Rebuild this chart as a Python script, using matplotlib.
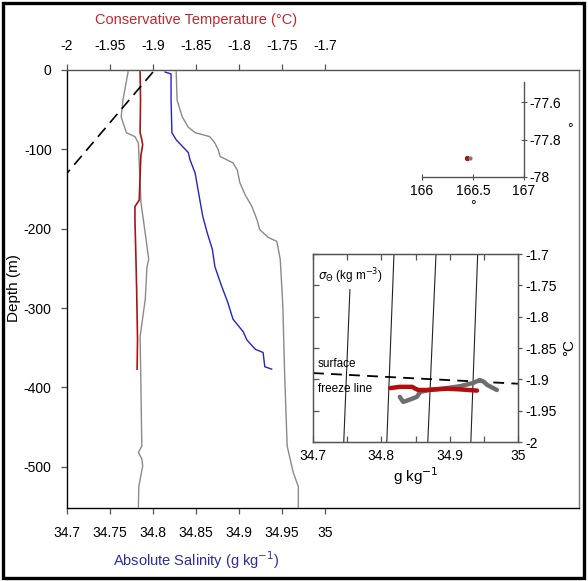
import matplotlib
matplotlib.use("Agg")
import matplotlib.pyplot as plt
from matplotlib.patches import Rectangle

plt.rcParams['font.family'] = ['Liberation Sans', 'DejaVu Sans']
plt.rcParams['axes.unicode_minus'] = False

# ---------------- data ----------------
blue_depth = [-2.5, -5, -38, -79, -88, -104, -113, -130, -167, -185, -205, -226, -248,
              -273, -293, -314, -330, -340, -352, -356, -374, -377]
blue_sal = [34.814, 34.821, 34.821, 34.822, 34.827, 34.841, 34.843, 34.849, 34.855, 34.858,
            34.863, 34.869, 34.872, 34.880, 34.887, 34.893, 34.905, 34.909, 34.919, 34.928,
            34.930, 34.938]

red_depth = [-2.5, -38, -79, -88, -94, -101, -107, -119, -164, -172, -189, -230, -277, -340, -377]
red_temp = [-1.915, -1.9145, -1.915, -1.913, -1.912, -1.913, -1.914, -1.9145, -1.916, -1.921,
            -1.921, -1.920, -1.919, -1.918, -1.9185]

gray_t_depth = [-2.5, -38, -59, -79, -84, -92, -167, -214, -239, -248, -289, -336, -403, -474,
                -478, -482, -486, -490, -499, -525, -551]
gray_temp = [-1.929, -1.935, -1.937, -1.931, -1.921, -1.917, -1.914, -1.908, -1.905, -1.907,
             -1.909, -1.915, -1.914, -1.913, -1.915, -1.917, -1.915, -1.913, -1.912, -1.9165, -1.917]

gray_s_depth = [-2.5, -38, -59, -72, -79, -84, -92, -101, -109, -117, -126, -142, -157, -172,
                -189, -201, -211, -216, -239, -298, -381, -474, -507, -525, -551]
gray_sal = [34.827, 34.828, 34.834, 34.841, 34.849, 34.866, 34.872, 34.876, 34.878, 34.893,
            34.898, 34.901, 34.907, 34.915, 34.921, 34.924, 34.934, 34.944, 34.948, 34.951,
            34.953, 34.956, 34.963, 34.969, 34.969]

freeze_depth = [-2.5, -140]
freeze_temp = [-1.900, -2.0078]

sal_ticks = [34.7, 34.75, 34.8, 34.85, 34.9, 34.95, 35]
sal_labels = ['34.7', '34.75', '34.8', '34.85', '34.9', '34.95', '35']
temp_ticks = [-2, -1.95, -1.9, -1.85, -1.8, -1.75, -1.7]
temp_labels = ['-2', '-1.95', '-1.9', '-1.85', '-1.8', '-1.75', '-1.7']
depth_ticks = [0, -100, -200, -300, -400, -500]
depth_labels = ['0', '-100', '-200', '-300', '-400', '-500']

# T-S inset
ts_red_S = [34.813, 34.820, 34.827, 34.835, 34.845, 34.850, 34.854, 34.860, 34.867, 34.880,
            34.896, 34.915, 34.940]
ts_red_T = [-1.914, -1.913, -1.912, -1.912, -1.912, -1.915, -1.917, -1.917, -1.917, -1.916,
            -1.915, -1.916, -1.918]
ts_gray_S = [34.827, 34.832, 34.840, 34.852, 34.857, 34.870, 34.896, 34.915, 34.934, 34.944,
             34.950, 34.955, 34.962, 34.969]
ts_gray_T = [-1.928, -1.936, -1.933, -1.928, -1.920, -1.917, -1.914, -1.911, -1.906, -1.901,
             -1.904, -1.909, -1.913, -1.917]
iso_S_top = [34.754, 34.8185, 34.880, 34.941]
iso_T_top = [-1.757, -1.7, -1.7, -1.7]
iso_S_bot = [34.745, 34.808, 34.868, 34.931]
ts_freeze_S = [34.7, 35.0]
ts_freeze_T = [-1.890, -1.907]
ts_xticks = [34.7, 34.8, 34.9, 35]
ts_xlabels = ['34.7', '34.8', '34.9', '35']
ts_yticks = [-2, -1.95, -1.9, -1.85, -1.8, -1.75, -1.7]
ts_ylabels = ['-2', '-1.95', '-1.9', '-1.85', '-1.8', '-1.75', '-1.7']

# map inset
map_lon = [166.44, 166.475]
map_lat = [-77.90, -77.90]
map_xticks = [166, 166.5, 167]
map_xlabels = ['166', '166.5', '167']
map_yticks = [-78, -77.8, -77.6]
map_ylabels = ['-78', '-77.8', '-77.6']

RED = '#a81414'
BLUE = '#2323c8'
GRAY = '#8a8a8a'
SPINE = '#555555'

W, H = 588, 581
fig = plt.figure(figsize=(W / 100, H / 100), dpi=100)


def fx(px):
    return px / W


def fy(py):
    return 1 - py / H


# ---------------- main axes ----------------
ax = fig.add_axes([fx(67), fy(508), fx(579) - fx(67), fy(70) - fy(508)])
ax.set_xlim(34.7, 34.7 + 512 / 860)
ax.set_ylim(-552, 0)
for s in ax.spines.values():
    s.set_color('#777777')
    s.set_linewidth(1.0)
ax.spines['left'].set_color(SPINE)
ax.spines['bottom'].set_color(SPINE)
ax.set_xticks(sal_ticks)
ax.set_xticklabels(sal_labels)
ax.set_yticks(depth_ticks)
ax.set_yticklabels(depth_labels)
ax.tick_params(direction='out', length=4, width=0.9, color=SPINE, labelsize=10, pad=7)
ax.tick_params(axis='x', pad=9)

ax.plot(gray_sal, gray_s_depth, color=GRAY, lw=1.0)
ax.plot(blue_sal, blue_depth, color=BLUE, lw=1.0)

axt = ax.twiny()
axt.set_xlim(-2, -2 + 512 / 860)
axt.set_xticks(temp_ticks)
axt.set_xticklabels(temp_labels)
axt.tick_params(direction='out', length=4, width=0.9, color=SPINE, labelsize=10, pad=8)
axt.spines['top'].set_color(SPINE)
axt.spines['right'].set_color('#777777')
axt.plot(gray_temp, gray_t_depth, color=GRAY, lw=1.0)
axt.plot(red_temp, red_depth, color=RED, lw=1.2)
axt.plot(freeze_temp, freeze_depth, color='black', lw=1.2, ls=(0, (7, 4)))

fig.text(fx(196), fy(20), 'Conservative Temperature (°C)', color='#c0282d', fontsize=10.5,
         ha='center', va='center')
fig.text(fx(196), fy(560), 'Absolute Salinity (g kg$^{-1}$)', color='#2b2ba6', fontsize=10.5,
         ha='center', va='center')
fig.text(fx(14), fy(288), 'Depth (m)', fontsize=11, rotation=90, ha='center', va='center')

# ---------------- T-S inset ----------------
ts = fig.add_axes([fx(313), fy(442), fx(518) - fx(313), fy(254) - fy(442)])
ts.set_facecolor('white')
ts.set_xlim(34.7, 35)
ts.set_ylim(-2, -1.7)
for s in ts.spines.values():
    s.set_color(SPINE)
    s.set_linewidth(1.0)
ts.set_xticks(ts_xticks)
ts.set_xticklabels(ts_xlabels)
ts.set_xticks([34.75, 34.85, 34.95], minor=True)
ts.set_yticks(ts_yticks)
ts.set_yticklabels([])
ts.tick_params(axis='x', which='both', direction='in', top=True, length=4, width=0.9,
               color=SPINE, labelsize=10, pad=5)
ts.tick_params(axis='y', direction='in', left=True, right=False, length=4, width=0.9, color=SPINE)
ts.set_xlabel('g kg$^{-1}$', fontsize=11, labelpad=2)

for i in range(len(iso_S_top)):
    ts.plot([iso_S_bot[i], iso_S_top[i]], [-2, iso_T_top[i]], color='#222222', lw=0.8)
ts.plot(ts_freeze_S, ts_freeze_T, color='black', lw=1.3, ls=(0, (6, 4)))
ts.plot(ts_gray_S, ts_gray_T, color='#6e6e6e', lw=3.2, solid_capstyle='round',
        solid_joinstyle='round')
ts.plot(ts_red_S, ts_red_T, color='#b80c0c', lw=3.2, solid_capstyle='round',
        solid_joinstyle='round')
ts.text(34.707, -1.735, r'$\sigma_\Theta$ (kg m$^{-3}$)', fontsize=8.5, ha='left', va='center')
ts.text(34.707, -1.875, 'surface', fontsize=8.5, ha='left', va='center')
ts.text(34.707, -1.915, 'freeze line', fontsize=8.5, ha='left', va='center')

ts2 = ts.twinx()
ts2.set_ylim(-2, -1.7)
ts2.set_yticks(ts_yticks)
ts2.set_yticklabels(ts_ylabels)
ts2.tick_params(axis='y', direction='out', length=3, width=0.9, color=SPINE, labelsize=10, pad=2)
for s in ts2.spines.values():
    s.set_color(SPINE)
ts2.set_ylabel('°C', fontsize=11, labelpad=4)

# ---------------- map inset ----------------
mp = fig.add_axes([fx(422), fy(177), fx(524) - fx(422), fy(82) - fy(177)])
mp.set_facecolor('none')
mp.set_xlim(166, 167)
mp.set_ylim(-78, -77.493)
for side in ['top', 'left']:
    mp.spines[side].set_visible(False)
for side in ['bottom', 'right']:
    mp.spines[side].set_color(SPINE)
    mp.spines[side].set_linewidth(1.0)
mp.set_xticks(map_xticks)
mp.set_xticklabels(map_xlabels)
mp.set_yticks(map_yticks)
mp.set_yticklabels(map_ylabels)
mp.yaxis.tick_right()
mp.tick_params(direction='inout', length=4, width=0.8, color=SPINE, labelsize=10, pad=3)
mp.tick_params(axis='y', pad=2)
mp.plot(map_lon[0], map_lat[0], 'o', color=RED, ms=2.8, mec=RED)
mp.plot(map_lon[1], map_lat[1], 'o', color='#7a7a7a', ms=2.0, mec='#7a7a7a')
mp.set_xlabel('°', fontsize=10, labelpad=1)
mp.yaxis.set_label_position('right')
mp.set_ylabel('°', fontsize=10, rotation=0, labelpad=6, va='center')

# ---------------- outer frame ----------------
fig.patches.append(Rectangle((fx(2.5), fy(577.5)), fx(584) - fx(2.5), fy(2.5) - fy(577.5),
                             transform=fig.transFigure, fill=False, edgecolor='black', lw=2.4))

fig.savefig('out.png', dpi=100)
